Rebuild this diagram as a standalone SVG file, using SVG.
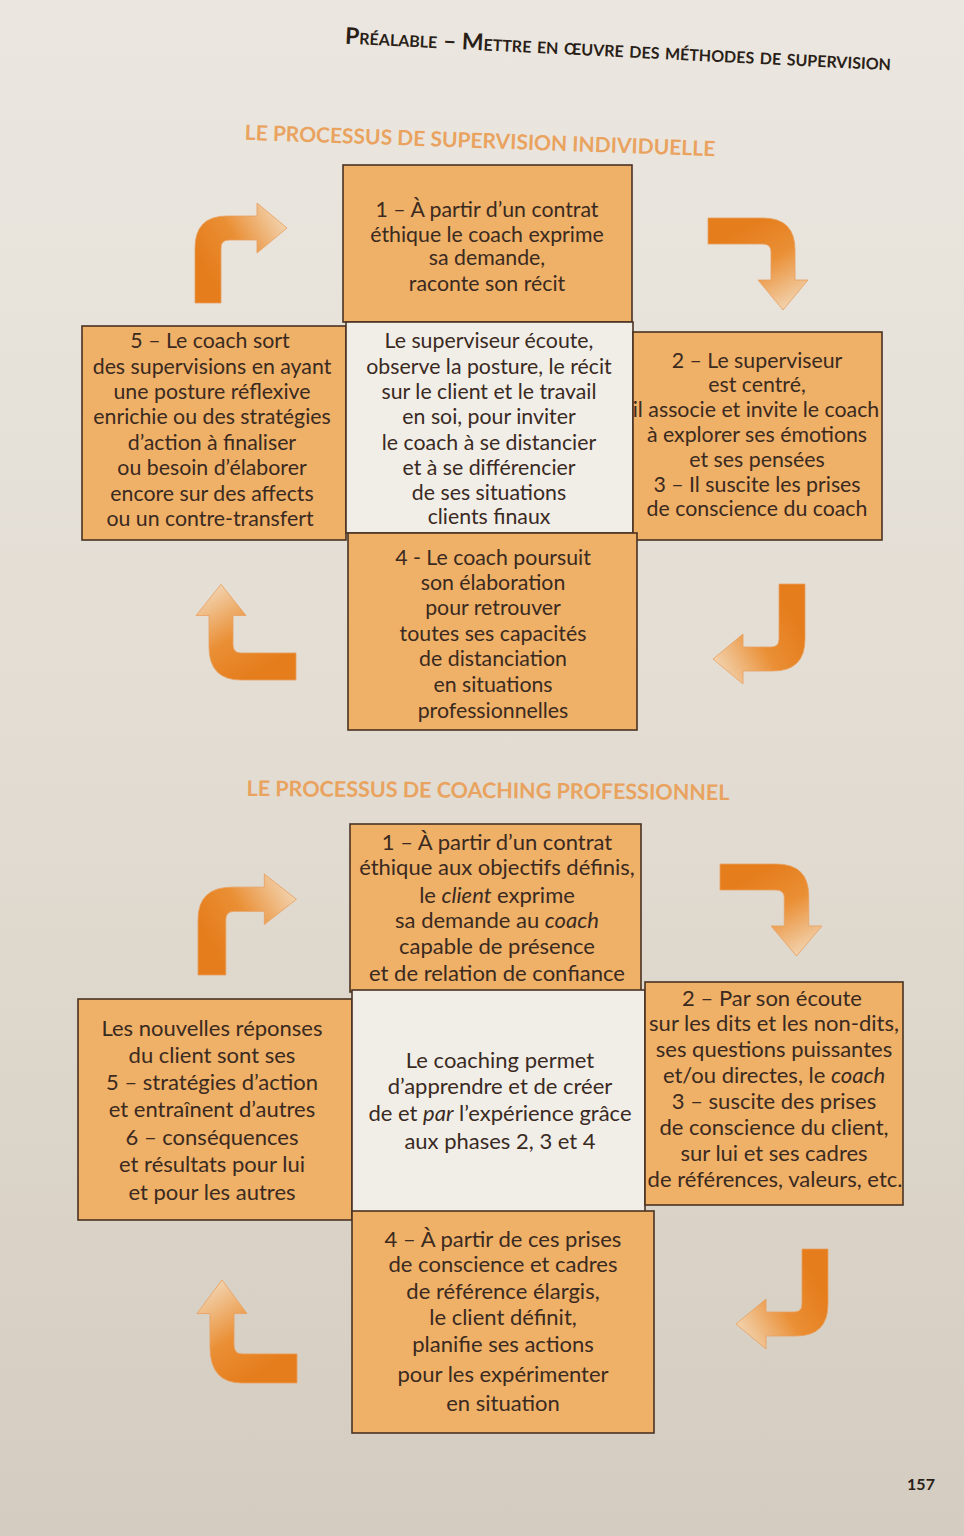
<svg xmlns="http://www.w3.org/2000/svg" width="964" height="1536" viewBox="0 0 964 1536">
<defs>
<linearGradient id="bg" x1="0" y1="0" x2="0" y2="1">
<stop offset="0" stop-color="#ebe7e0"/>
<stop offset="0.5" stop-color="#e2dcd2"/>
<stop offset="1" stop-color="#d4ccc0"/>
</linearGradient>
<linearGradient id="ag" gradientUnits="userSpaceOnUse" x1="13" y1="70" x2="92" y2="25">
<stop offset="0" stop-color="#e57d1c"/>
<stop offset="0.45" stop-color="#ea8f35"/>
<stop offset="1" stop-color="#f2d2ad"/>
</linearGradient>
<path id="arr" d="M0,100 L0,45 Q0,13 32,13 L62,13 L62,0 L92,25 L62,50 L62,37 L34,37 Q26,37 26,45 L26,100 Z"/>
<style>
.box{fill:#efb067;stroke:#4a3322;stroke-width:1.6}
.mid{fill:#f1eee8;stroke:#4a3322;stroke-width:1.6}
.t{font-family:Lato,"Open Sans",sans-serif;font-size:21.3px;fill:#3a2a1f;text-anchor:middle}
.t2{font-family:Lato,"Open Sans",sans-serif;font-size:22px;fill:#3a2a1f;text-anchor:middle}
.ttl{font-family:Lato,"Open Sans",sans-serif;font-weight:bold;fill:#e9a35f;text-anchor:middle}
.a{fill:url(#ag);stroke:#e8a060;stroke-width:0.8}
</style>
</defs>
<rect x="0" y="0" width="964" height="1536" fill="url(#bg)"/>
<text x="618" y="57" transform="rotate(2.8 618 52)" font-family="Lato,'Open Sans',sans-serif" font-weight="bold" font-size="23" fill="#2a1f18" text-anchor="middle" font-variant="small-caps">Préalable – Mettre en œuvre des méthodes de supervision</text>
<text class="ttl" x="480" y="148" font-size="21" transform="rotate(2 480 141)">LE PROCESSUS DE SUPERVISION INDIVIDUELLE</text>
<g id="d1-top"><rect class="box" x="343" y="165" width="289" height="157"/>
<text class="t"><tspan x="487" y="217">1 – À partir d’un contrat</tspan><tspan x="487" y="242">éthique le coach exprime</tspan><tspan x="487" y="265">sa demande,</tspan><tspan x="487" y="291">raconte son récit</tspan></text></g>
<g id="d1-left"><rect class="box" x="82" y="326" width="264" height="214"/>
<text class="t"><tspan x="210" y="348">5 – Le coach sort</tspan><tspan x="212" y="374">des supervisions en ayant</tspan><tspan x="212" y="399">une posture réflexive</tspan><tspan x="212" y="424">enrichie ou des stratégies</tspan><tspan x="212" y="450">d’action à finaliser</tspan><tspan x="212" y="475">ou  besoin d’élaborer</tspan><tspan x="212" y="501">encore sur des affects</tspan><tspan x="210" y="526">ou un contre-transfert</tspan></text></g>
<g id="d1-center"><rect class="mid" x="346" y="322" width="287" height="211"/>
<text class="t"><tspan x="489" y="348">Le superviseur écoute,</tspan><tspan x="489" y="374">observe la posture, le récit</tspan><tspan x="489" y="399">sur le client et le travail</tspan><tspan x="489" y="424">en soi, pour inviter</tspan><tspan x="489" y="450">le coach à se distancier</tspan><tspan x="489" y="475">et à se différencier</tspan><tspan x="489" y="500">de ses situations</tspan><tspan x="489" y="524">clients finaux</tspan></text></g>
<g id="d1-right"><rect class="box" x="633" y="332" width="249" height="208"/>
<text class="t"><tspan x="757" y="368">2 – Le superviseur</tspan><tspan x="757" y="392">est centré,</tspan><tspan x="756" y="417">il associe et invite le coach</tspan><tspan x="757" y="442">à explorer ses émotions</tspan><tspan x="757" y="467">et ses pensées</tspan><tspan x="757" y="492">3 – Il suscite les prises</tspan><tspan x="757" y="516">de conscience du coach</tspan></text></g>
<g id="d1-bottom"><rect class="box" x="348" y="533" width="289" height="197"/>
<text class="t"><tspan x="493" y="565">4 - Le coach poursuit</tspan><tspan x="493" y="590">son élaboration</tspan><tspan x="493" y="615">pour retrouver</tspan><tspan x="493" y="641">toutes ses capacités</tspan><tspan x="493" y="666">de distanciation</tspan><tspan x="493" y="692">en situations</tspan><tspan x="493" y="718">professionnelles</tspan></text></g>
<g id="d1-arrows">
<use href="#arr" class="a" transform="translate(195,203)"/>
<use href="#arr" class="a" transform="translate(808,218) rotate(90)"/>
<use href="#arr" class="a" transform="translate(805,684) rotate(180)"/>
<use href="#arr" class="a" transform="translate(196,680) rotate(-90) scale(1.04,1)"/>
</g>
<text class="ttl" x="488" y="798" font-size="21.5" transform="rotate(0.5 488 790)">LE PROCESSUS DE COACHING PROFESSIONNEL</text>
<g id="d2-top"><rect class="box" x="350" y="824" width="291" height="168"/>
<text class="t2"><tspan x="497" y="850">1 – À partir d’un contrat</tspan><tspan x="497" y="875">éthique aux objectifs définis,</tspan><tspan x="497" y="903">le <tspan font-style="italic">client</tspan> exprime</tspan><tspan x="497" y="928">sa demande au <tspan font-style="italic">coach</tspan></tspan><tspan x="497" y="954">capable de présence</tspan><tspan x="497" y="981">et de relation de confiance</tspan></text></g>
<g id="d2-left"><rect class="box" x="78" y="999" width="274" height="221"/>
<text class="t2"><tspan x="212" y="1036">Les nouvelles réponses</tspan><tspan x="212" y="1063">du client sont ses</tspan><tspan x="212" y="1090">5 – stratégies d’action</tspan><tspan x="212" y="1117">et entraînent d’autres</tspan><tspan x="212" y="1145">6 – conséquences</tspan><tspan x="212" y="1172">et résultats pour lui</tspan><tspan x="212" y="1200">et pour les autres</tspan></text></g>
<g id="d2-center"><rect class="mid" x="352" y="990" width="293" height="226"/>
<text class="t2"><tspan x="500" y="1068">Le coaching permet</tspan><tspan x="500" y="1094">d’apprendre et de créer</tspan><tspan x="500" y="1121">de et <tspan font-style="italic">par</tspan> l’expérience grâce</tspan><tspan x="500" y="1149">aux phases 2, 3 et 4</tspan></text></g>
<g id="d2-right"><rect class="box" x="645" y="982" width="258" height="223"/>
<text class="t2"><tspan x="772" y="1006">2 – Par son écoute</tspan><tspan x="774" y="1031">sur les dits et les non-dits,</tspan><tspan x="774" y="1057">ses questions puissantes</tspan><tspan x="774" y="1083">et/ou directes, le <tspan font-style="italic">coach</tspan></tspan><tspan x="774" y="1109">3 – suscite des prises</tspan><tspan x="774" y="1135">de conscience du client,</tspan><tspan x="774" y="1161">sur lui et ses cadres</tspan><tspan x="775" y="1187">de références, valeurs, etc.</tspan></text></g>
<g id="d2-bottom"><rect class="box" x="352" y="1211" width="302" height="222"/>
<text class="t2"><tspan x="503" y="1247">4 – À partir de ces prises</tspan><tspan x="503" y="1272">de conscience et cadres</tspan><tspan x="503" y="1299">de référence élargis,</tspan><tspan x="503" y="1325">le client définit,</tspan><tspan x="503" y="1352">planifie ses actions</tspan><tspan x="503" y="1382">pour les expérimenter</tspan><tspan x="503" y="1411">en situation</tspan></text></g>
<g id="d2-arrows">
<use href="#arr" class="a" transform="translate(198,874) scale(1.07,1.01)"/>
<use href="#arr" class="a" transform="translate(822,864) rotate(90) scale(1,1.02)"/>
<use href="#arr" class="a" transform="translate(828,1349) rotate(180)"/>
<use href="#arr" class="a" transform="translate(197,1383) rotate(-90) scale(1.12,1)"/>
</g>
<text x="921" y="1490" font-family="Lato,'Open Sans',sans-serif" font-weight="bold" font-size="16" fill="#2a1f18" text-anchor="middle">157</text>
</svg>
